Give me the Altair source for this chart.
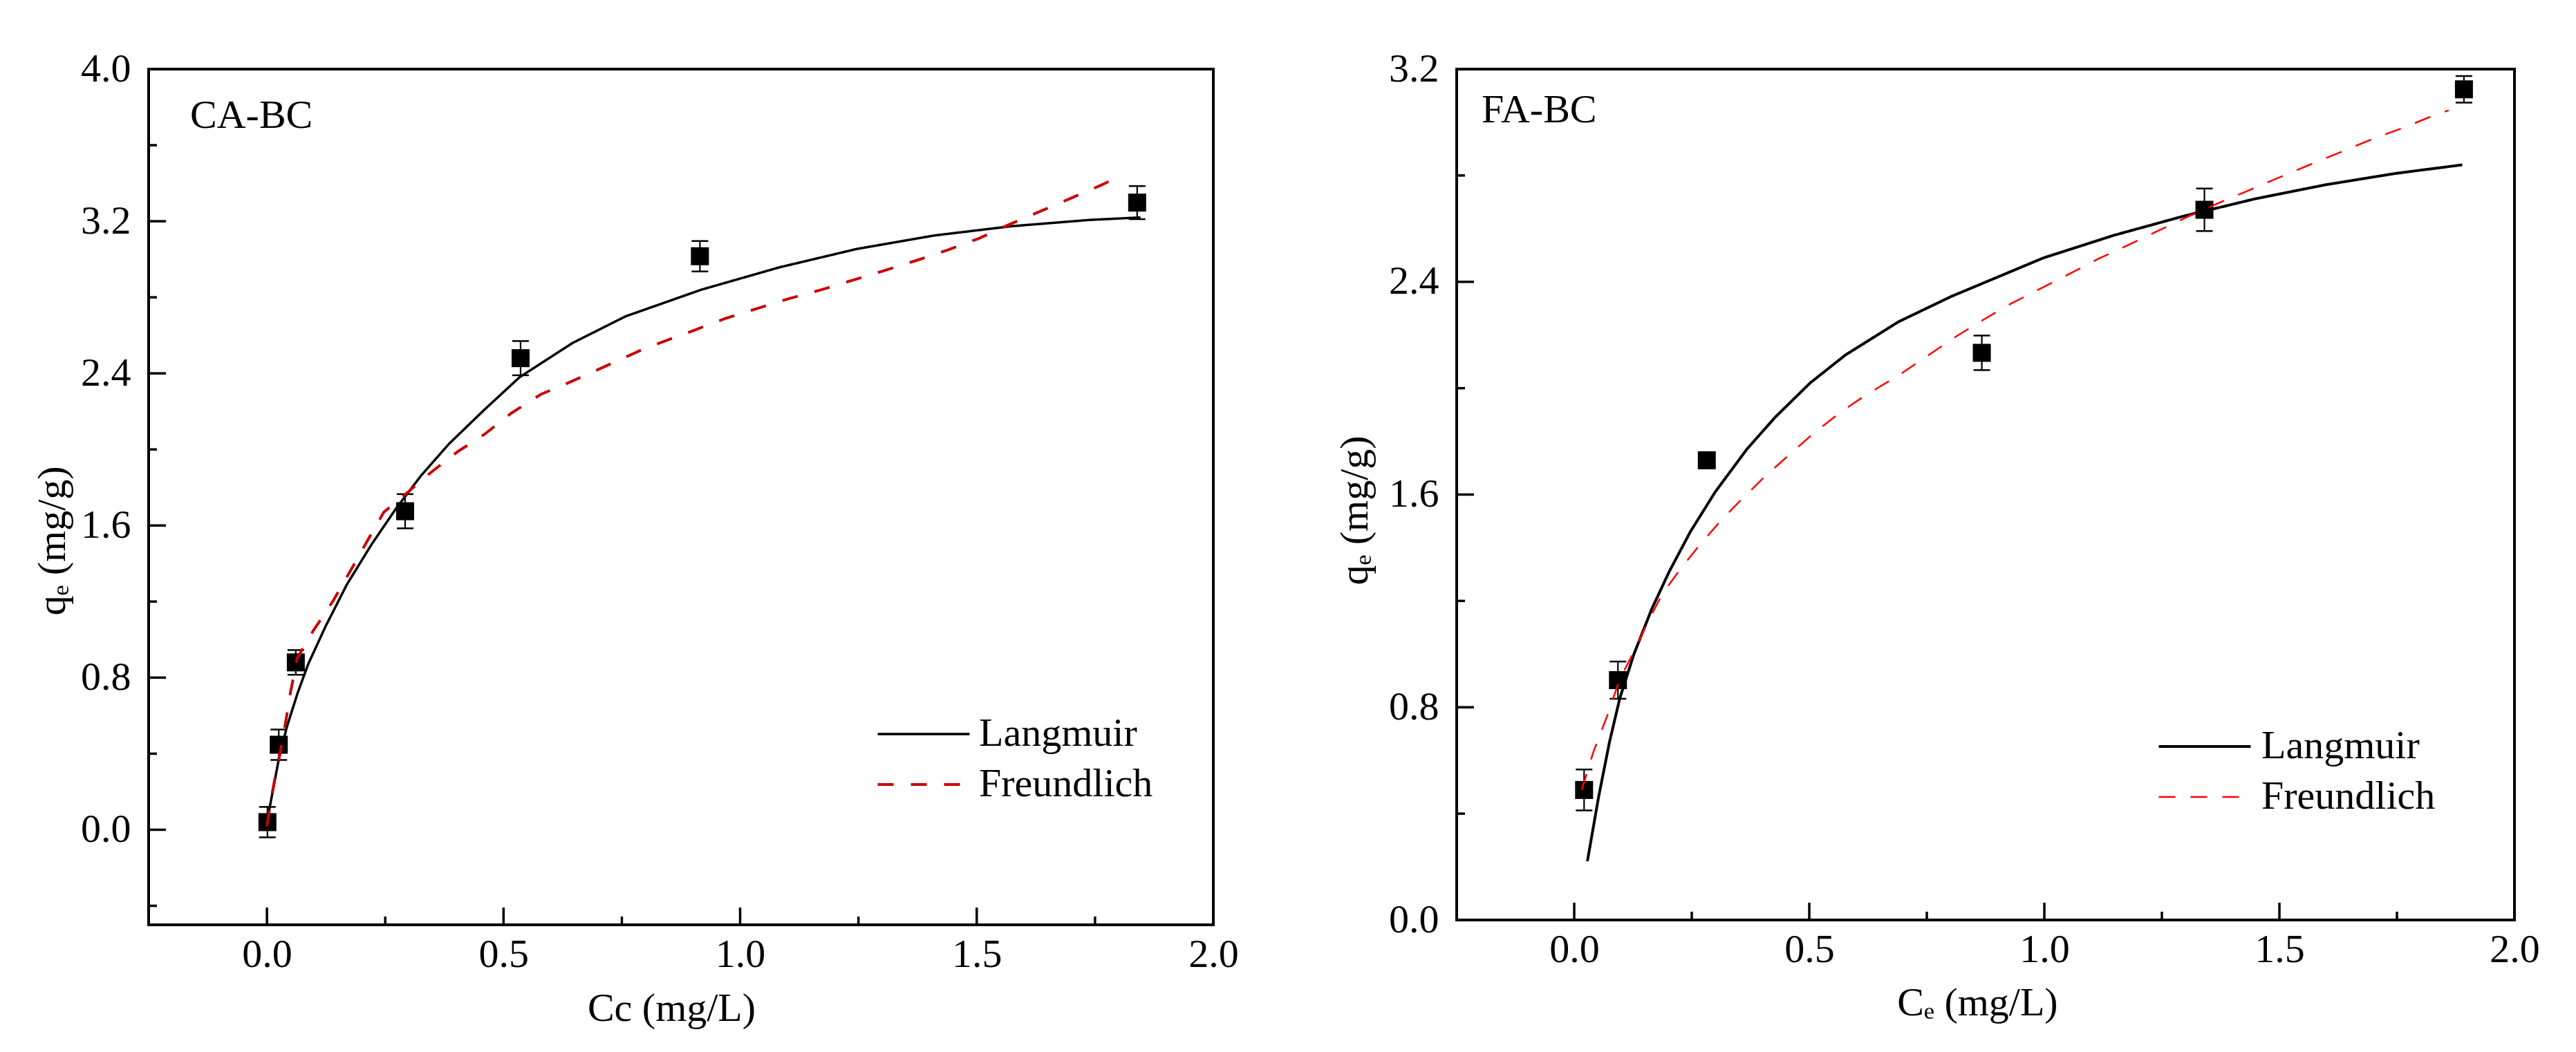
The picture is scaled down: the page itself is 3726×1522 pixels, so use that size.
import altair as alt
import pandas as pd

FONT = "Liberation Serif"
FS = 58

# ---------------- CA-BC (left panel) ----------------
ca_ce = [0.001, 0.025, 0.061, 0.292, 0.536, 0.915, 1.839]
ca_qe = [0.04, 0.447, 0.88, 1.675, 2.48, 3.016, 3.298]
ca_err = [0.08, 0.08, 0.065, 0.09, 0.09, 0.08, 0.087]

ca_lang_x = [0.003, 0.025, 0.042, 0.065, 0.087, 0.124, 0.169, 0.221, 0.273, 0.325, 0.385,
             0.46, 0.534, 0.646, 0.758, 0.918, 1.082, 1.246, 1.41, 1.574, 1.739, 1.846]
ca_lang_y = [0.08, 0.37, 0.54, 0.72, 0.87, 1.07, 1.29, 1.50, 1.69, 1.86, 2.03,
             2.21, 2.38, 2.56, 2.70, 2.84, 2.957, 3.054, 3.125, 3.174, 3.207, 3.22]

ca_freu_x = [0.0, 0.01, 0.029, 0.039, 0.05, 0.064, 0.098, 0.139, 0.176, 0.214, 0.247, 0.3,
             0.348, 0.404, 0.46, 0.516, 0.579, 0.646, 0.795, 0.902, 0.968, 1.037, 1.103,
             1.172, 1.238, 1.304, 1.374, 1.44, 1.505, 1.566, 1.632, 1.698, 1.763, 1.78]
ca_freu_y = [0.02, 0.18, 0.425, 0.558, 0.725, 0.903, 1.047, 1.2, 1.36, 1.527, 1.67, 1.78,
             1.882, 1.99, 2.08, 2.19, 2.29, 2.36, 2.527, 2.626, 2.688, 2.742, 2.793,
             2.84, 2.89, 2.94, 2.995, 3.05, 3.11, 3.18, 3.25, 3.32, 3.39, 3.41]

# ---------------- FA-BC (right panel) ----------------
fa_ce = [0.021, 0.093, 0.282, 0.867, 1.3405, 1.8925]
fa_qe = [0.489, 0.902, 1.729, 2.133, 2.671, 3.124]
fa_err = [0.077, 0.07, 0.03, 0.065, 0.08, 0.05]

fa_lang_x = [0.028, 0.052, 0.075, 0.097, 0.127, 0.165, 0.202, 0.247, 0.30, 0.367, 0.427,
             0.502, 0.577, 0.69, 0.802, 0.998, 1.148, 1.298, 1.448, 1.598, 1.748, 1.889]
fa_lang_y = [0.221, 0.464, 0.669, 0.834, 1.0, 1.17, 1.31, 1.46, 1.61, 1.77, 1.89,
             2.02, 2.125, 2.25, 2.345, 2.49, 2.575, 2.648, 2.712, 2.765, 2.808, 2.84]

fa_freu_x = [0.016, 0.040, 0.071, 0.097, 0.127, 0.157, 0.187, 0.225, 0.262, 0.307, 0.352,
             0.405, 0.457, 0.51, 0.570, 0.622, 0.69, 0.75, 0.81, 0.866, 0.926, 0.99, 1.05,
             1.114, 1.178, 1.242, 1.305, 1.369, 1.436, 1.50, 1.564, 1.632, 1.695, 1.763,
             1.827, 1.86]
fa_freu_y = [0.489, 0.628, 0.772, 0.906, 1.009, 1.122, 1.225, 1.318, 1.400, 1.492, 1.575,
             1.667, 1.749, 1.832, 1.914, 1.976, 2.048, 2.12, 2.192, 2.253, 2.315, 2.373,
             2.427, 2.486, 2.538, 2.592, 2.645, 2.695, 2.745, 2.793, 2.840, 2.889, 2.935,
             2.979, 3.025, 3.045]

# ---------------- ticks ----------------
x_labels = [0.0, 0.5, 1.0, 1.5, 2.0]
x_major = [0.0, 0.5, 1.0, 1.5]
x_minor = [0.25, 0.75, 1.25, 1.75]
ca_y_labels = [0.0, 0.8, 1.6, 2.4, 3.2, 4.0]
ca_y_major = [0.0, 0.8, 1.6, 2.4, 3.2]
ca_y_minor = [-0.4, 0.4, 1.2, 2.0, 2.8, 3.6]
fa_y_labels = [0.0, 0.8, 1.6, 2.4, 3.2]
fa_y_major = [0.8, 1.6, 2.4]
fa_y_minor = [0.4, 1.2, 2.0, 2.8]

models = ["Langmuir", "Freundlich"]


def panel(name, ce, qe, err, lx, ly, fx, fy, ydom, ylab, ymaj, ymin, xtitle, W, H, c):
    xs = alt.Scale(domain=[-0.25, 2.0], nice=False, zero=False)
    ys = alt.Scale(domain=ydom, nice=False, zero=False)

    pts = pd.DataFrame({"ce": ce, "qe": qe, "err": err})
    pts["lo"] = pts["qe"] - pts["err"]
    pts["hi"] = pts["qe"] + pts["err"]
    caps = pd.DataFrame({"ce": list(ce) * 2, "q": list(pts["lo"]) + list(pts["hi"])})
    curves = pd.concat([
        pd.DataFrame({"ce": lx, "q": ly, "model": "Langmuir"}),
        pd.DataFrame({"ce": fx, "q": fy, "model": "Freundlich"}),
    ])

    xaxis = alt.Axis(values=x_labels, format=".1f", ticks=False, domain=False, grid=False,
                     labelFont=FONT, labelFontSize=FS, labelColor="black", labelPadding=14,
                     labelFlush=False, labelOverlap=False, title=xtitle, titleFont=FONT,
                     titleFontSize=FS, titleFontWeight="normal", titleColor="black",
                     titleX=c["tx"], titleY=c["ty"], titleBaseline="alphabetic",
                     titleAlign="center")
    yaxis = alt.Axis(values=ylab, format=".1f", ticks=False, domain=False, grid=False,
                     labelFont=FONT, labelFontSize=FS, labelColor="black", labelPadding=26,
                     labelFlush=False, labelOverlap=False, title="qₑ (mg/g)", titleFont=FONT,
                     titleFontSize=FS, titleFontWeight="normal", titleColor="black",
                     titleAngle=270, titleX=c["yx"], titleY=c["yy"],
                     titleBaseline="alphabetic", titleAlign="center")

    # other layers share the scales and leave the axis definition to the first layer
    X = lambda f: alt.X(f, scale=xs)
    Y = lambda f: alt.Y(f, scale=ys)

    points = alt.Chart(pts).mark_square(size=676, color="black", opacity=1).encode(
        x=alt.X("ce:Q", scale=xs, axis=xaxis), y=alt.Y("qe:Q", scale=ys, axis=yaxis))
    bars = alt.Chart(pts).mark_rule(color="black", strokeWidth=2.2).encode(
        x=X("ce:Q"), y=Y("lo:Q"), y2="hi:Q")
    capm = alt.Chart(caps).mark_tick(orient="horizontal", size=24, thickness=2.5,
                                     color="black", opacity=1).encode(x=X("ce:Q"), y=Y("q:Q"))

    leg = alt.Legend(orient="none", legendX=c["lx"], legendY=c["ly"], title=None,
                     symbolType="M-6,0H6", symbolSize=491, labelFont=FONT, labelFontSize=FS,
                     labelColor="black", labelOffset=c["lo"], labelLimit=600, rowPadding=15,
                     padding=0, symbolOpacity=1)
    lines = alt.Chart(curves).mark_line(strokeCap="butt").encode(
        x=X("ce:Q"), y=Y("q:Q"),
        color=alt.Color("model:N", scale=alt.Scale(domain=models, range=c["colors"]), legend=leg),
        strokeDash=alt.StrokeDash("model:N", scale=alt.Scale(domain=models,
                                  range=[[1, 0], c["dash"]]), legend=leg),
        strokeWidth=alt.StrokeWidth("model:N", scale=alt.Scale(domain=models,
                                    range=c["widths"]), legend=leg),
    )

    xt_major = alt.Chart(pd.DataFrame({"v": x_major})).mark_rule(color="black", strokeWidth=3.5).encode(
        x=X("v:Q"), y=alt.value(H), y2=alt.value(H - 25))
    xt_minor = alt.Chart(pd.DataFrame({"v": x_minor})).mark_rule(color="black", strokeWidth=3.5).encode(
        x=X("v:Q"), y=alt.value(H), y2=alt.value(H - 12))
    yt_major = alt.Chart(pd.DataFrame({"v": ymaj})).mark_rule(color="black", strokeWidth=3.5).encode(
        y=Y("v:Q"), x=alt.value(0), x2=alt.value(25))
    yt_minor = alt.Chart(pd.DataFrame({"v": ymin})).mark_rule(color="black", strokeWidth=3.5).encode(
        y=Y("v:Q"), x=alt.value(0), x2=alt.value(12))

    return alt.layer(points, bars, capm, lines, xt_major, xt_minor, yt_major, yt_minor).properties(
        width=W, height=H,
        title=alt.TitleParams(text=name, anchor="start", frame="group", orient="top", offset=0,
                              dx=c["ndx"], dy=c["ndy"], baseline="alphabetic", font=FONT,
                              fontSize=FS, fontWeight="normal", color="black"),
    )


left = panel("CA-BC", ca_ce, ca_qe, ca_err, ca_lang_x, ca_lang_y, ca_freu_x, ca_freu_y,
             [-0.5, 4.0], ca_y_labels, ca_y_major, ca_y_minor, "Cc (mg/L)", 1540, 1238,
             dict(tx=756, ty=138, yx=-122, yy=682, lx=1092, ly=933, lo=51,
                  colors=["#000000", "#cc0000"], dash=[23, 25], widths=[3.5, 4],
                  ndx=60, ndy=172))
right = panel("FA-BC", fa_ce, fa_qe, fa_err, fa_lang_x, fa_lang_y, fa_freu_x, fa_freu_y,
              [0.0, 3.2], fa_y_labels, fa_y_major, fa_y_minor, "Cₑ (mg/L)", 1530, 1231,
              dict(tx=753, ty=137, yx=-130, yy=638, lx=1053, ly=951, lo=53,
                   colors=["#000000", "#ff0000"], dash=[24, 22], widths=[4, 2.5],
                   ndx=36, ndy=164))

chart = alt.hconcat(left, right, spacing=352, bounds="flush").resolve_scale(
    color="independent", strokeDash="independent", strokeWidth="independent"
).properties(
    padding={"left": 37, "top": 61, "right": 5, "bottom": 5}, background="white"
).configure_view(stroke="black", strokeWidth=4)

chart.save("out.html", embed_options={"renderer": "svg", "actions": False})
